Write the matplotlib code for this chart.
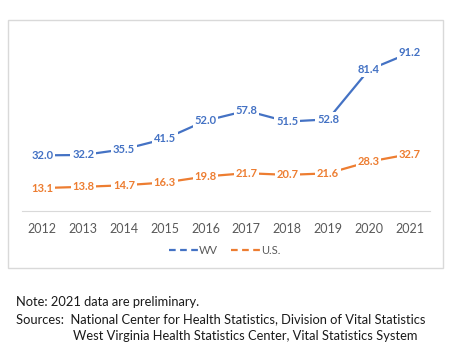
import matplotlib.pyplot as plt
from matplotlib.patches import Rectangle
from matplotlib.lines import Line2D

years = [2012, 2013, 2014, 2015, 2016, 2017, 2018, 2019, 2020, 2021]
wv = [32.0, 32.2, 35.5, 41.5, 52.0, 57.8, 51.5, 52.8, 81.4, 91.2]
us = [13.1, 13.8, 14.7, 16.3, 19.8, 21.7, 20.7, 21.6, 28.3, 32.7]

blue = '#4472C4'
orange = '#ED7D31'
font = ['Lato', 'DejaVu Sans']

fig = plt.figure(figsize=(4.74, 3.57), dpi=100)
W, H = 474, 357

# chart frame
fig.patches.append(Rectangle((8 / W, 1 - 268 / H), 435 / W, 248 / H,
                             transform=fig.transFigure, fill=False,
                             edgecolor='#D9D9D9', linewidth=1))

ax = fig.add_axes([22 / W, 1 - 210.7 / H, 408 / W, 173 / H])
ax.set_xlim(2011.5, 2021.5)
ax.set_ylim(0, 100)
for s in ['top', 'right', 'left']:
    ax.spines[s].set_visible(False)
ax.spines['bottom'].set_color('#D9D9D9')
ax.set_yticks([])
ax.set_xticks(years)
ax.set_xticklabels([str(y) for y in years], fontsize=9, color='#595959', family=font)
ax.tick_params(axis='x', length=0, pad=9)

for vals, c in [(wv, blue), (us, orange)]:
    ax.plot(years, vals, color=c, linewidth=1.6, solid_capstyle='butt')
    for x, v in zip(years, vals):
        ax.text(x, v, f'{v:.1f}', ha='center', va='center', fontsize=8,
                color=c, family=font, fontweight='bold',
                bbox=dict(facecolor='white', edgecolor='none', pad=1.2))

handles = [Line2D([], [], color=blue, linestyle=(0, (3, 2)), linewidth=1.6),
           Line2D([], [], color=orange, linestyle=(0, (3, 2)), linewidth=1.6)]
fig.legend(handles, ['WV', 'U.S.'], loc='center', bbox_to_anchor=(225 / W, 1 - 250 / H),
           ncol=2, frameon=False, handlelength=2.6, handletextpad=0.1, columnspacing=1.2,
           prop={'family': font, 'size': 8}, labelcolor='#595959')

fig.text(16 / W, 1 - 302 / H, 'Note: 2021 data are preliminary.', fontsize=9.3,
         family=font, color='#1a1a1a', va='center')
fig.text(16 / W, 1 - 319 / H, 'Sources:  National Center for Health Statistics, Division of Vital Statistics',
         fontsize=9.3, family=font, color='#1a1a1a', va='center')
fig.text(73 / W, 1 - 336 / H, 'West Virginia Health Statistics Center, Vital Statistics System',
         fontsize=9.3, family=font, color='#1a1a1a', va='center')

fig.savefig('out.png', dpi=100)
